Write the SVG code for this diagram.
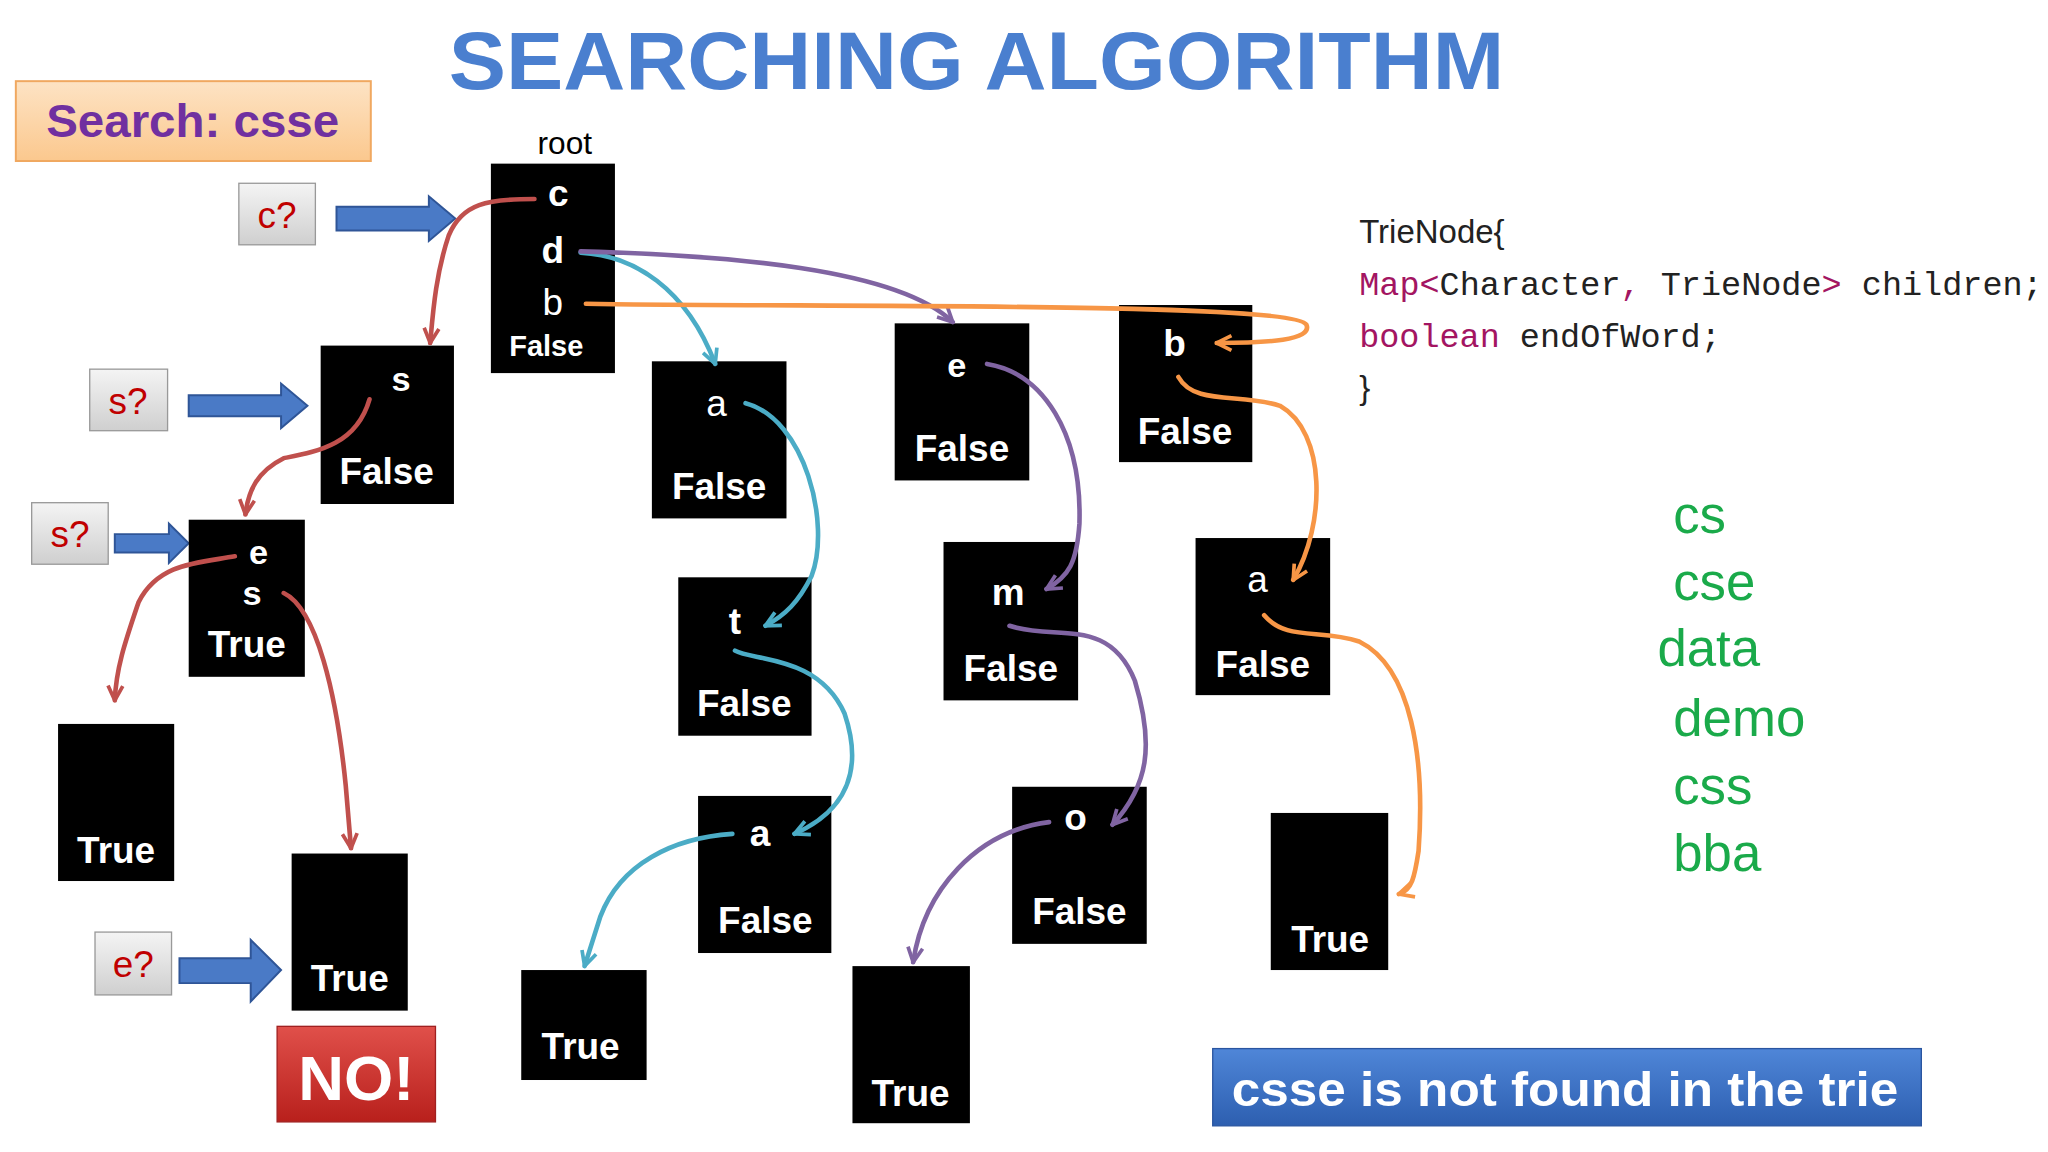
<svg xmlns="http://www.w3.org/2000/svg" width="2048" height="1152" viewBox="0 0 2048 1152">
<defs>
<linearGradient id="gOr" x1="0" y1="0" x2="0" y2="1"><stop offset="0" stop-color="#fde3c4"/><stop offset="1" stop-color="#fbc88e"/></linearGradient>
<linearGradient id="gGr" x1="0" y1="0" x2="0" y2="1"><stop offset="0" stop-color="#f4f4f4"/><stop offset="1" stop-color="#cfcfcf"/></linearGradient>
<linearGradient id="gRd" x1="0" y1="0" x2="0" y2="1"><stop offset="0" stop-color="#e0504a"/><stop offset="1" stop-color="#b8201c"/></linearGradient>
<linearGradient id="gBl" x1="0" y1="0" x2="0" y2="1"><stop offset="0" stop-color="#4f86d8"/><stop offset="1" stop-color="#2d5fb0"/></linearGradient>
<marker id="mR" viewBox="0 0 10 10" refX="9" refY="5" markerWidth="14" markerHeight="14" markerUnits="userSpaceOnUse" orient="auto"><path d="M1,1 L9,5 L1,9" fill="none" stroke="#c0504d" stroke-width="2"/></marker>
<marker id="mT" viewBox="0 0 10 10" refX="9" refY="5" markerWidth="14" markerHeight="14" markerUnits="userSpaceOnUse" orient="auto"><path d="M1,1 L9,5 L1,9" fill="none" stroke="#4bacc6" stroke-width="2"/></marker>
<marker id="mP" viewBox="0 0 10 10" refX="9" refY="5" markerWidth="14" markerHeight="14" markerUnits="userSpaceOnUse" orient="auto"><path d="M1,1 L9,5 L1,9" fill="none" stroke="#8064a2" stroke-width="2"/></marker>
<marker id="mO" viewBox="0 0 10 10" refX="9" refY="5" markerWidth="14" markerHeight="14" markerUnits="userSpaceOnUse" orient="auto"><path d="M1,1 L9,5 L1,9" fill="none" stroke="#f79646" stroke-width="2"/></marker>
</defs>
<style>
.n{fill:#000}
.w{fill:#fff;font-family:"Liberation Sans",Arial,sans-serif;text-anchor:middle}
.b{font-weight:bold}
.q{fill:url(#gGr);stroke:#999;stroke-width:1}
.qt{fill:#c00000;font-family:"Liberation Sans",Arial,sans-serif;font-size:28px;text-anchor:middle}
.fa{fill:#4a7ac6;stroke:#2f5597;stroke-width:1.5}
.c{fill:none;stroke-width:3.5;stroke-linecap:round}
.red{stroke:#c0504d}.teal{stroke:#4bacc6}.pur{stroke:#8064a2}.org{stroke:#f79646}
.g{fill:#1aaa4a;font-family:"Liberation Sans",Arial,sans-serif;font-size:40px}
.mono{font-family:"Liberation Mono","DejaVu Sans Mono",monospace;font-size:25px;fill:#222}
.k{fill:#a31562}
</style>
<rect width="2048" height="1152" fill="#fff"/>
<g transform="scale(1.3196 1.3091)">
<g id="title"><text x="740" y="68" font-family="Liberation Sans,Arial,sans-serif" font-weight="bold" font-size="62" fill="#4a7fcf" text-anchor="middle" textLength="800" lengthAdjust="spacingAndGlyphs">SEARCHING ALGORITHM</text></g>
<g id="search"><rect x="12" y="62" width="269" height="61" fill="url(#gOr)" stroke="#f0a860" stroke-width="1.5"/><text x="146" y="105" font-family="Liberation Sans,Arial,sans-serif" font-weight="bold" font-size="36" fill="#7030a0" text-anchor="middle">Search: csse</text></g>
<g id="q1"><rect class="q" x="181" y="140" width="58" height="47"/><text class="qt" x="210" y="174">c?</text></g>
<g id="q2"><rect class="q" x="68" y="282" width="59" height="47"/><text class="qt" x="97" y="316">s?</text></g>
<g id="q3"><rect class="q" x="24" y="384" width="58" height="47"/><text class="qt" x="53" y="418">s?</text></g>
<g id="q4"><rect class="q" x="72" y="712" width="58" height="48"/><text class="qt" x="101" y="746">e?</text></g>
<g id="bigarrows">
<polygon class="fa" points="255,158 325,158 325,150 345,167 325,184 325,176 255,176"/>
<polygon class="fa" points="143,302 213,302 213,293 233,310 213,327 213,318 143,318"/>
<polygon class="fa" points="87,408 128,408 128,400 143,415 128,430 128,422 87,422"/>
<polygon class="fa" points="136,732 190,732 190,718 213,741 190,765 190,751 136,751"/>
</g>
<g id="root"><text x="428" y="118" font-family="Liberation Sans,Arial,sans-serif" font-size="24" text-anchor="middle">root</text><rect class="n" x="372" y="125" width="94" height="160"/>
<text class="w b" x="423" y="157" font-size="28">c</text><text class="w b" x="419" y="201" font-size="28">d</text><text class="w" x="419" y="241" font-size="28">b</text><text class="w b" x="414" y="272" font-size="22">False</text></g>
<g id="nS"><rect class="n" x="243" y="264" width="101" height="121"/><text class="w b" x="304" y="299" font-size="26">s</text><text class="w b" x="293" y="370" font-size="28">False</text></g>
<g id="nE"><rect class="n" x="143" y="397" width="88" height="120"/><text class="w b" x="196" y="431" font-size="26">e</text><text class="w b" x="191" y="462" font-size="26">s</text><text class="w b" x="187" y="502" font-size="28">True</text></g>
<g id="nT1"><rect class="n" x="44" y="553" width="88" height="120"/><text class="w b" x="88" y="659" font-size="28">True</text></g>
<g id="nT2"><rect class="n" x="221" y="652" width="88" height="120"/><text class="w b" x="265" y="757" font-size="28">True</text></g>
<g id="nA1"><rect class="n" x="494" y="276" width="102" height="120"/><text class="w" x="543" y="318" font-size="28">a</text><text class="w b" x="545" y="381" font-size="28">False</text></g>
<g id="nT"><rect class="n" x="514" y="441" width="101" height="121"/><text class="w b" x="557" y="484" font-size="28">t</text><text class="w b" x="564" y="547" font-size="28">False</text></g>
<g id="nA2"><rect class="n" x="529" y="608" width="101" height="120"/><text class="w b" x="576" y="646" font-size="28">a</text><text class="w b" x="580" y="713" font-size="28">False</text></g>
<g id="nT3"><rect class="n" x="395" y="741" width="95" height="84"/><text class="w b" x="440" y="809" font-size="28">True</text></g>
<g id="nE2"><rect class="n" x="678" y="247" width="102" height="120"/><text class="w b" x="725" y="288" font-size="26">e</text><text class="w b" x="729" y="352" font-size="28">False</text></g>
<g id="nM"><rect class="n" x="715" y="414" width="102" height="121"/><text class="w b" x="764" y="462" font-size="28">m</text><text class="w b" x="766" y="520" font-size="28">False</text></g>
<g id="nO"><rect class="n" x="767" y="601" width="102" height="120"/><text class="w b" x="815" y="634" font-size="28">o</text><text class="w b" x="818" y="706" font-size="28">False</text></g>
<g id="nT4"><rect class="n" x="646" y="738" width="89" height="120"/><text class="w b" x="690" y="845" font-size="28">True</text></g>
<g id="nB"><rect class="n" x="848" y="233" width="101" height="120"/><text class="w b" x="890" y="272" font-size="28">b</text><text class="w b" x="898" y="339" font-size="28">False</text></g>
<g id="nA3"><rect class="n" x="906" y="411" width="102" height="120"/><text class="w" x="953" y="452" font-size="28">a</text><text class="w b" x="957" y="517" font-size="28">False</text></g>
<g id="nT5"><rect class="n" x="963" y="621" width="89" height="120"/><text class="w b" x="1008" y="727" font-size="28">True</text></g>
<g id="connectors">
<path class="c red" marker-end="url(#mR)" d="M405,152 C370,152 350,155 340,180 C330,210 328,240 326,262"/>
<path class="c red" marker-end="url(#mR)" d="M280,305 C270,340 240,345 215,350 C195,360 188,375 186,393"/>
<path class="c red" marker-end="url(#mR)" d="M178,425 C150,430 120,430 105,460 C95,490 88,510 87,535"/>
<path class="c red" marker-end="url(#mR)" d="M215,453 C240,465 255,530 262,600 L266,648"/>
<path class="c teal" marker-end="url(#mT)" d="M440,193 C480,195 520,220 542,278"/>
<path class="c teal" marker-end="url(#mT)" d="M565,308 C610,320 630,400 615,440 C605,460 595,470 580,478"/>
<path class="c teal" marker-end="url(#mT)" d="M557,497 C570,505 620,500 640,545 C655,590 640,620 602,637"/>
<path class="c teal" marker-end="url(#mT)" d="M555,637 C510,640 470,660 455,700 L443,738"/>
<path class="c pur" marker-end="url(#mP)" d="M440,192 C550,195 680,205 722,246"/>
<path class="c pur" marker-end="url(#mP)" d="M748,278 C790,285 820,330 818,400 C816,430 810,440 793,450"/>
<path class="c pur" marker-end="url(#mP)" d="M765,478 C800,490 840,470 860,520 C875,570 870,600 843,630"/>
<path class="c pur" marker-end="url(#mP)" d="M795,628 C740,635 700,680 692,735"/>
<path class="c org" marker-end="url(#mO)" d="M444,232 C600,235 980,230 990,248 C995,260 960,262 922,262"/>
<path class="c org" marker-end="url(#mO)" d="M893,288 C905,310 940,300 970,310 C1005,330 1005,400 980,443"/>
<path class="c org" marker-end="url(#mO)" d="M958,470 C975,490 1000,480 1030,490 C1070,510 1080,580 1075,650 C1072,670 1070,680 1060,683"/>
</g>
<g id="code">
<text x="1030" y="186" font-family="Liberation Sans,Arial,sans-serif" font-size="25" fill="#222">TrieNode{</text>
<text class="mono" x="1030" y="225" textLength="518" lengthAdjust="spacingAndGlyphs"><tspan class="k">Map&lt;</tspan>Character<tspan class="k">,</tspan> TrieNode<tspan class="k">&gt;</tspan> children;</text>
<text class="mono" x="1030" y="265" textLength="274" lengthAdjust="spacingAndGlyphs"><tspan class="k">boolean</tspan> endOfWord;</text>
<text x="1030" y="305" font-family="Liberation Sans,Arial,sans-serif" font-size="25" fill="#222">}</text>
</g>
<g id="words">
<text class="g" x="1268" y="407">cs</text><text class="g" x="1268" y="458">cse</text><text class="g" x="1256" y="509">data</text><text class="g" x="1268" y="562">demo</text><text class="g" x="1268" y="614">css</text><text class="g" x="1268" y="665">bba</text>
</g>
<g id="no"><rect x="210" y="784" width="120" height="73" fill="url(#gRd)" stroke="#a02020"/><text x="270" y="840" font-family="Liberation Sans,Arial,sans-serif" font-weight="bold" font-size="48" fill="#fff" text-anchor="middle">NO!</text></g>
<g id="banner"><rect x="919" y="801" width="537" height="59" fill="url(#gBl)" stroke="#2a55a0"/><text x="1186" y="845" font-family="Liberation Sans,Arial,sans-serif" font-weight="bold" font-size="37" fill="#fff" text-anchor="middle" textLength="505" lengthAdjust="spacingAndGlyphs">csse is not found in the trie</text></g>
</g>
</svg>
